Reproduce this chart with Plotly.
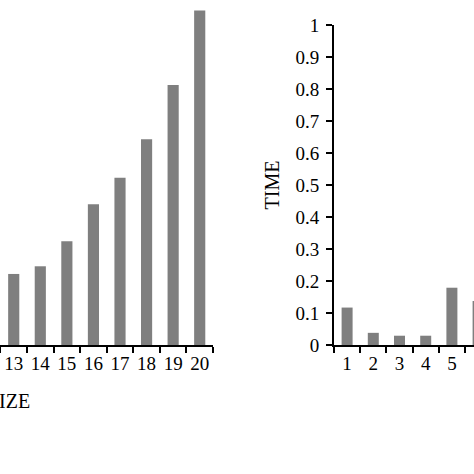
import plotly.graph_objects as go

# left panel (partly cut off on the left)
size_labels = ["13", "14", "15", "16", "17", "18", "19", "20"]
size_times = [0.222, 0.246, 0.324, 0.44, 0.523, 0.643, 0.8125, 1.045]

# right panel (partly cut off on the right)
run_labels = ["1", "2", "3", "4", "5", "6"]
run_times = [0.117, 0.038, 0.029, 0.029, 0.179, 0.1375]

W = H = 474
FONT = "Liberation Serif, Times New Roman, serif"
BAR = "#7f7f7f"


def px_x(p):
    return p / W


def px_y(p):
    return 1 - p / H


fig = go.Figure()

fig.add_trace(go.Bar(x=size_labels, y=size_times, marker_color=BAR,
                     marker_line_width=0, xaxis="x", yaxis="y"))
fig.add_trace(go.Bar(x=run_labels, y=run_times, marker_color=BAR,
                     marker_line_width=0, xaxis="x2", yaxis="y2"))

tick_font = dict(family=FONT, size=19, color="black")
axis_common = dict(showline=True, linecolor="black", linewidth=2,
                   ticks="outside", ticklen=6, tickwidth=2, tickcolor="black",
                   showgrid=False, zeroline=False, tickfont=tick_font,
                   tickangle=0, automargin=False)

# category spacing ~26.5px on the left, ~26.2px on the right
left_end = 213
left_span = left_end / 26.57
right_start = 334
right_span = (W - right_start) / 26.2

fig.update_layout(
    width=W, height=H,
    margin=dict(l=0, r=0, t=0, b=0),
    paper_bgcolor="white", plot_bgcolor="white",
    showlegend=False,
    bargap=0.58,
    font=dict(family=FONT, size=19, color="black"),
    xaxis=dict(axis_common, type="category", tickson="boundaries",
               domain=[0, px_x(left_end)], anchor="y",
               range=[7.5 - left_span, 7.5]),
    yaxis=dict(domain=[px_y(345), 1], range=[0, 345 / 320],
               visible=False, anchor="x", automargin=False),
    xaxis2=dict(axis_common, type="category", tickson="boundaries",
                domain=[px_x(right_start), 1], anchor="y2",
                range=[-0.5, -0.5 + right_span]),
    yaxis2=dict(axis_common, domain=[px_y(345), px_y(25)], range=[0, 1],
                dtick=0.1, tick0=0, anchor="x2", ticklabelstandoff=3,
                title=dict(text="TIME", font=dict(family=FONT, size=20),
                           standoff=10)),
)

# the left panel's axis title is cut by the picture edge, like the reference
fig.add_annotation(text="SIZE", xref="paper", yref="paper",
                   x=px_x(32), y=px_y(401), xanchor="right", yanchor="middle",
                   showarrow=False, font=dict(family=FONT, size=20))

fig.write_html("out.html", config={"displayModeBar": False},
               post_script="document.body.style.margin='0';")
